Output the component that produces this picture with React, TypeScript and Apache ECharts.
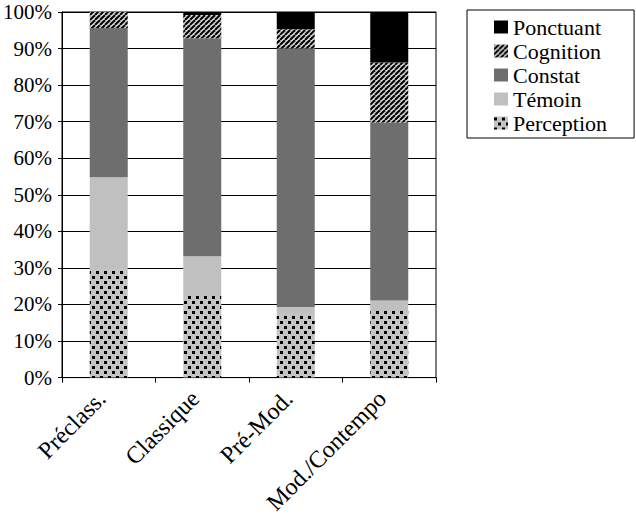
import React, { useEffect, useRef } from "react";
import * as echarts from "echarts";

const categories = ["Préclass.", "Classique", "Pré-Mod.", "Mod./Contempo"];
const perception = [29.7, 22.3, 17.4, 18.2];
const temoin = [25.1, 10.9, 1.9, 2.9];
const constat = [40.8, 59.6, 70.8, 48.7];
const cognition = [4.4, 6.4, 5.2, 16.4];
const ponctuant = [0, 0.8, 4.7, 13.8];
const legendOrder = ["Ponctuant", "Cognition", "Constat", "Témoin", "Perception"];

const FONT = "Liberation Serif";

// staggered black squares on light grey
function dotTile(): HTMLCanvasElement {
  const c = document.createElement("canvas");
  c.width = 8;
  c.height = 10;
  const g = c.getContext("2d")!;
  g.fillStyle = "#c4c4c4";
  g.fillRect(0, 0, 8, 10);
  g.fillStyle = "#000";
  g.fillRect(0, 1, 3, 3);
  g.fillRect(4, 6, 3, 3);
  return c;
}

// forward diagonal hatching
function hatchTile(): HTMLCanvasElement {
  const s = 5;
  const c = document.createElement("canvas");
  c.width = s;
  c.height = s;
  const g = c.getContext("2d")!;
  g.fillStyle = "#d8d8d8";
  g.fillRect(0, 0, s, s);
  g.strokeStyle = "#000";
  g.lineWidth = 2;
  for (const off of [-s, 0, s]) {
    g.beginPath();
    g.moveTo(off, s);
    g.lineTo(off + s, 0);
    g.stroke();
  }
  return c;
}

export default function App() {
  const ref = useRef<HTMLDivElement>(null);

  useEffect(() => {
    if (!ref.current) return;
    const chart = echarts.init(ref.current, null, { renderer: "svg" });
    const dots = dotTile();
    const hatch = hatchTile();

    const bar = (name: string, data: number[], color: any) => ({
      name,
      type: "bar",
      stack: "total",
      barWidth: 38,
      data,
      itemStyle: { color },
      emphasis: { disabled: true },
    });

    chart.setOption({
      animation: false,
      backgroundColor: "#fff",
      textStyle: { fontFamily: FONT },
      grid: {
        left: 62,
        right: 200,
        top: 12,
        bottom: 138,
        show: true,
        borderColor: "#000",
        borderWidth: 1,
      },
      legend: {
        orient: "vertical",
        left: 467,
        top: 10,
        data: legendOrder,
        icon: "rect",
        itemWidth: 14,
        itemHeight: 13,
        itemGap: 2,
        padding: [6, 27, 4, 27],
        borderColor: "#000",
        borderWidth: 1,
        selectedMode: false,
        textStyle: { fontFamily: FONT, fontSize: 22, color: "#000", lineHeight: 22 },
      },
      xAxis: {
        type: "category",
        data: categories,
        axisLine: { lineStyle: { color: "#000", width: 1 } },
        axisTick: { show: true, length: 5, lineStyle: { color: "#000" } },
        axisLabel: {
          interval: 0,
          rotate: 45,
          margin: 10,
          padding: [0, 10, 0, 0],
          fontFamily: FONT,
          fontSize: 24,
          color: "#000",
        },
      },
      yAxis: {
        type: "value",
        min: 0,
        max: 100,
        interval: 10,
        axisLine: { show: true, lineStyle: { color: "#000", width: 1 } },
        axisTick: { show: true, length: 4, lineStyle: { color: "#000" } },
        axisLabel: {
          formatter: "{value}%",
          margin: 10,
          fontFamily: FONT,
          fontSize: 21,
          color: "#000",
        },
        splitLine: { show: true, lineStyle: { color: "#000", width: 1 } },
      },
      series: [
        bar("Perception", perception, {
          image: dots,
          repeat: "repeat",
          imageWidth: 8,
          imageHeight: 10,
        }),
        bar("Témoin", temoin, "#c0c0c0"),
        bar("Constat", constat, "#6e6e6e"),
        bar("Cognition", cognition, {
          image: hatch,
          repeat: "repeat",
          imageWidth: 5,
          imageHeight: 5,
        }),
        bar("Ponctuant", ponctuant, "#000"),
      ],
    });

    return () => chart.dispose();
  }, []);

  return (
    <div
      ref={ref}
      style={{ position: "fixed", left: 0, top: 0, width: 636, height: 517 }}
    />
  );
}
